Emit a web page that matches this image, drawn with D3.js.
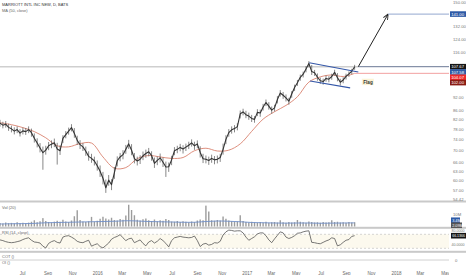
<!DOCTYPE html>
<html lang="en">
<head>
<meta charset="UTF-8">
<title>MAR daily - flag</title>
<script src="https://d3js.org/d3.v7.min.js"></script>
<style>
  body { margin: 0; background: #fff; overflow: hidden; }
  svg { display: block; font-family: "Liberation Sans", Arial, sans-serif; }
</style>
</head>
<body>
<svg id="chart" width="466" height="275"></svg>
<script>
// weekly samples (Fridays, May 2015 - Sep 2017)
const closes = [80.6, 79.8, 80.2, 78.9, 78.3, 77.4, 78.0, 76.6, 77.5, 77.2,
  78.0, 76.8, 74.6, 72.8, 71.0, 69.3, 70.2, 71.8, 72.4, 72.9,
  70.6, 70.0, 74.6, 76.0, 77.4, 78.8, 76.5, 73.8, 72.2, 71.4,
  69.8, 68.0, 67.3, 66.4, 64.8, 63.0, 60.8, 57.9, 60.2, 58.8,
  62.6, 66.5, 67.8, 68.6, 70.5, 72.5, 70.2, 67.2, 66.4, 67.0,
  68.2, 69.0, 69.6, 68.3, 65.6, 66.6, 67.5, 66.0, 64.4, 64.5,
  66.8, 70.0, 70.5, 71.2, 70.6, 71.3, 72.0, 72.9, 71.8, 72.5,
  69.4, 67.2, 67.0, 66.6, 67.3, 66.8, 67.0, 67.6, 70.5, 74.2,
  76.8, 77.9, 78.4, 79.2, 84.6, 85.4, 84.2, 83.6, 82.6, 82.2,
  85.2, 84.9, 87.6, 89.6, 88.0, 86.2, 87.2, 91.0, 94.1, 93.0,
  91.8, 90.2, 93.6, 96.8, 99.2, 102.0, 103.6, 106.4, 109.5, 105.0,
  104.4, 102.0, 100.2, 99.8, 101.4, 101.0, 102.4, 104.6, 101.8, 99.4,
  100.6, 102.5, 103.8, 105.2, 107.67];
const highs = [82.0, 81.2, 81.5, 80.4, 79.6, 78.9, 79.3, 78.2, 78.8, 78.6,
  79.3, 78.4, 76.5, 74.6, 72.8, 71.5, 71.8, 73.2, 73.8, 74.5,
  72.9, 72.0, 75.8, 77.4, 78.8, 80.2, 78.6, 75.6, 73.9, 72.8,
  71.5, 69.8, 68.9, 67.9, 66.6, 64.9, 62.8, 60.4, 61.8, 60.5,
  64.4, 68.0, 69.2, 70.2, 72.1, 74.0, 72.4, 69.2, 67.9, 68.4,
  69.7, 70.4, 71.0, 69.8, 67.6, 68.0, 69.0, 67.6, 66.2, 65.9,
  68.2, 71.3, 71.8, 72.5, 72.0, 72.6, 73.3, 74.2, 73.3, 73.8,
  71.6, 68.9, 68.3, 67.9, 68.6, 68.1, 68.3, 68.9, 72.6, 75.8,
  78.2, 79.3, 79.8, 80.6, 86.0, 86.8, 85.9, 85.1, 84.1, 83.6,
  86.6, 86.4, 89.0, 91.0, 89.8, 87.8, 88.6, 92.6, 95.5, 94.6,
  93.4, 91.8, 95.0, 98.2, 100.6, 103.4, 105.0, 108.0, 110.8, 108.6,
  105.9, 104.0, 101.8, 101.3, 102.9, 102.6, 103.9, 106.0, 104.2, 101.2,
  102.0, 103.9, 105.1, 106.5, 108.7];
const lows = [79.2, 78.5, 78.8, 77.5, 76.9, 76.1, 76.6, 75.3, 76.1, 75.9,
  76.6, 75.2, 73.0, 71.2, 69.4, 63.5, 68.6, 70.2, 70.9, 71.3,
  65.2, 68.5, 72.8, 74.6, 76.0, 77.3, 74.8, 72.1, 70.6, 69.9,
  68.2, 66.5, 65.8, 64.9, 63.2, 61.2, 58.9, 56.4, 58.5, 57.2,
  60.6, 64.6, 66.3, 67.0, 68.9, 70.6, 68.4, 65.6, 64.9, 65.4,
  66.7, 67.5, 68.0, 66.5, 64.1, 65.0, 65.9, 64.4, 61.2, 62.8,
  65.0, 68.4, 69.1, 69.8, 69.0, 69.9, 70.6, 71.5, 70.3, 70.9,
  67.6, 65.7, 65.6, 65.1, 65.8, 65.3, 65.6, 66.1, 68.6, 72.4,
  75.2, 76.4, 76.9, 77.7, 82.6, 83.9, 82.7, 82.0, 81.1, 80.8,
  83.6, 83.3, 86.0, 88.0, 86.4, 84.6, 85.6, 89.2, 92.4, 91.3,
  90.1, 88.6, 91.8, 95.1, 97.6, 100.2, 101.9, 104.6, 107.4, 103.2,
  102.7, 100.2, 98.6, 98.2, 99.7, 99.4, 100.7, 102.8, 99.9, 97.8,
  98.9, 100.8, 102.2, 103.6, 106.0];
// MA(50, close), read every 4th week
const ma50 = [80.8, 80.0, 78.8, 77.2, 74.8, 71.8, 71.4, 72.6, 72.8, 67.8,
  64.0, 64.2, 67.2, 68.3, 67.8, 67.3, 67.6, 70.0, 70.9, 69.9,
  70.2, 72.5, 77.3, 82.3, 85.5, 88.3, 92.3, 99.5, 102.2, 103.2,
  102.4, 104.07];
// volume in millions
const volume = [2.8, 2.4, 3.2, 2.6, 2.9, 2.5, 3.4, 2.7, 3.0, 2.6,
  3.1, 3.8, 5.0, 3.4, 4.2, 6.7, 4.4, 3.6, 3.2, 3.9,
  4.6, 3.8, 5.4, 4.0, 3.6, 4.8, 8.2, 13.0, 5.2, 4.0,
  3.6, 4.2, 7.7, 3.8, 4.6, 6.2, 7.8, 6.4, 5.6, 7.0,
  5.2, 4.8, 6.0, 5.4, 8.8, 17.4, 13.2, 9.0, 5.4, 4.8,
  5.8, 6.4, 5.0, 4.4, 5.6, 4.2, 5.0, 4.6, 6.0, 5.2,
  4.0, 3.8, 4.4, 3.6, 4.2, 3.8, 3.4, 4.0, 3.6, 4.8,
  5.6, 5.0, 16.7, 12.0, 5.0, 4.6, 5.2, 4.8, 8.0, 6.2,
  4.8, 4.2, 3.6, 4.0, 9.0, 4.4, 3.6, 3.2, 3.8, 3.4,
  3.0, 3.6, 3.2, 3.8, 3.0, 3.4, 3.6, 3.2, 5.0, 3.4,
  3.0, 3.6, 3.2, 3.4, 5.2, 3.8, 3.4, 3.0, 4.0, 3.6,
  3.2, 3.4, 3.0, 3.6, 3.2, 3.4, 5.0, 3.6, 3.8, 3.2,
  3.4, 3.0, 3.6, 3.2, 3.4];
// Vol(20) average, every 4th week
const volAvg = [2.0, 2.2, 2.3, 2.5, 3.0, 3.2, 3.4, 3.6, 3.8, 4.0,
  4.2, 4.6, 4.4, 4.0, 3.8, 3.6, 3.4, 3.4, 4.0, 4.4,
  4.2, 3.8, 3.2, 3.0, 2.8, 2.7, 2.8, 2.8, 2.6, 2.7,
  2.8, 2.9];
const rsi = [54, 52, 49, 47, 46, 47, 49, 51, 55, 58,
  60, 53, 48, 47, 45, 36, 31, 44, 49, 52,
  47, 45, 62, 65, 66, 62, 57, 50, 47, 46,
  50, 53, 36, 40, 43, 35, 31, 38, 45, 56,
  61, 64, 69, 60, 52, 57, 59, 46, 50, 54,
  44, 37, 48, 52, 45, 50, 58, 52, 44, 34,
  52, 60, 62, 64, 62, 61, 60, 61, 65, 52,
  35, 42, 44, 39, 41, 46, 45, 50, 68, 77,
  82, 81, 79, 80, 80, 74, 62, 53, 58, 63,
  71, 74, 74, 66, 54, 46, 57, 67, 77, 74,
  62, 58, 61, 66, 73, 74, 77, 79, 80, 47,
  46, 44, 43, 47, 51, 54, 60, 58, 37, 40,
  47, 53, 55, 64, 66];

const priceTicks = [150, 132, 124, 116, 92, 86, 82, 78, 74, 70, 66, 63, 60, 57, 54.42];
const lastPrice = 107.67, target = 141;

const svg = d3.select("#chart");
const W = 449;
const weeks = d3.timeFriday.range(new Date(2015, 4, 8), new Date(2017, 8, 23));
const maDates = weeks.filter((d, i) => i % 4 === 0);

const x = d3.scaleTime().domain([new Date(2015, 4, 8), new Date(2018, 4, 11)]).range([0, W]);
const y = d3.scaleLog().domain([54.1, 150]).range([201, 2]);
const yV = d3.scaleLinear().domain([0, 20]).range([226.5, 201.5]);
const yR = d3.scaleLinear().domain([30, 80]).range([248.3, 230.8]);

const defs = svg.append("defs");
function clip(id, y0, y1) {
  defs.append("clipPath").attr("id", id).append("rect")
    .attr("x", 0).attr("y", y0).attr("width", W).attr("height", y1 - y0);
}
clip("cMain", 0, 201);
clip("cVol", 203, 227);
clip("cRsi", 229, 251);
clip("cAxis", 262, 275);

defs.append("marker").attr("id", "arrow").attr("viewBox", "0 0 10 10")
  .attr("refX", 9).attr("refY", 5).attr("markerWidth", 6).attr("markerHeight", 6)
  .attr("orient", "auto")
  .append("path").attr("d", "M0,1L9,5L0,9").attr("fill", "none").attr("stroke", "#222").attr("stroke-width", 1.5);

// pane separators
[[201.5, 2], [227.8, 2], [251.8, 2]].forEach(([yy, h]) => {
  svg.append("rect").attr("x", 0).attr("y", yy - h / 2).attr("width", 466).attr("height", h).attr("fill", "#c9c9c9");
});
svg.append("line").attr("x1", 0).attr("x2", W).attr("y1", 260).attr("y2", 260)
  .attr("stroke", "#c4c4c4").attr("stroke-width", 0.8);

// ---- main pane
const main = svg.append("g").attr("clip-path", "url(#cMain)");

// horizontal level through last price
main.append("line").attr("x1", 0).attr("x2", x(new Date(2017, 9, 1)))
  .attr("y1", y(lastPrice)).attr("y2", y(lastPrice)).attr("stroke", "#cfcfcf").attr("stroke-width", 1.4);
main.append("line").attr("x1", x(new Date(2017, 9, 1))).attr("x2", W)
  .attr("y1", y(lastPrice)).attr("y2", y(lastPrice)).attr("stroke", "#6b7894").attr("stroke-width", 1);

// MA line and its level
main.append("path").datum(ma50)
  .attr("fill", "none").attr("stroke", "#d9826f").attr("stroke-width", 0.9)
  .attr("d", d3.line().x((d, i) => x(maDates[i])).y(d => y(d)).curve(d3.curveCatmullRom));
main.append("line").attr("x1", x(maDates[maDates.length - 1])).attr("x2", W)
  .attr("y1", y(ma50[ma50.length - 1])).attr("y2", y(ma50[ma50.length - 1]))
  .attr("stroke", "#f2a0a0").attr("stroke-width", 1);

// price bars
main.selectAll("line.bar").data(weeks).enter().append("line").attr("class", "bar")
  .attr("x1", d => x(d)).attr("x2", d => x(d))
  .attr("y1", (d, i) => y(highs[i])).attr("y2", (d, i) => y(lows[i]))
  .attr("stroke", "#555").attr("stroke-width", 0.7);
main.append("path").datum(closes)
  .attr("fill", "none").attr("stroke", "#333").attr("stroke-width", 1.1)
  .attr("stroke-linejoin", "round")
  .attr("d", d3.line().x((d, i) => x(weeks[i])).y(d => y(d)));

// flag channel
const flagTop = [[new Date(2017, 5, 3), 109.9], [new Date(2017, 9, 1), 104.8]];
const flagBot = [[new Date(2017, 5, 5), 100.1], [new Date(2017, 8, 11), 96.6]];
[flagTop, flagBot].forEach(seg => {
  main.append("line")
    .attr("x1", x(seg[0][0])).attr("y1", y(seg[0][1]))
    .attr("x2", x(seg[1][0])).attr("y2", y(seg[1][1]))
    .attr("stroke", "#3457a8").attr("stroke-width", 1.1);
});

// projection arrow and target
main.append("line").attr("x1", x(new Date(2017, 9, 1))).attr("y1", y(lastPrice))
  .attr("x2", x(new Date(2017, 11, 13))).attr("y2", y(target))
  .attr("stroke", "#222").attr("stroke-width", 1).attr("marker-end", "url(#arrow)");
main.append("line").attr("x1", x(new Date(2017, 11, 13))).attr("x2", W)
  .attr("y1", y(target)).attr("y2", y(target)).attr("stroke", "#a9b9d9").attr("stroke-width", 1.3);

// Flag label
const fx = x(new Date(2017, 9, 12)), fy = y(99.6);
main.append("rect").attr("x", fx - 1).attr("y", fy - 3.2).attr("width", 12).attr("height", 6.4)
  .attr("fill", "#fbf3d6");
main.append("text").attr("x", fx + 0.5).attr("y", fy + 1.6)
  .attr("font-size", 4.6).attr("font-weight", "bold").attr("fill", "#333").text("Flag");

// ---- volume pane
const vol = svg.append("g").attr("clip-path", "url(#cVol)");
vol.selectAll("rect").data(weeks).enter().append("rect")
  .attr("x", d => x(d) - 0.7).attr("width", 1.4)
  .attr("y", (d, i) => yV(volume[i])).attr("height", (d, i) => yV(0) - yV(volume[i]))
  .attr("fill", "#9c9c9c");
vol.append("path").datum(volAvg)
  .attr("fill", "none").attr("stroke", "#6f8fc8").attr("stroke-width", 0.9)
  .attr("d", d3.line().x((d, i) => x(maDates[i])).y(d => yV(d)).curve(d3.curveCatmullRom));

// ---- RSI pane
const rs = svg.append("g").attr("clip-path", "url(#cRsi)");
rs.append("rect").attr("x", 0).attr("width", W).attr("y", yR(70)).attr("height", yR(30) - yR(70))
  .attr("fill", "#fcf9ee");
[70, 30].forEach(v => {
  rs.append("line").attr("x1", 0).attr("x2", W).attr("y1", yR(v)).attr("y2", yR(v))
    .attr("stroke", "#b8b8b8").attr("stroke-width", 0.6).attr("stroke-dasharray", "2,2");
});
rs.append("path").datum(rsi)
  .attr("fill", "none").attr("stroke", "#555").attr("stroke-width", 0.8)
  .attr("d", d3.line().x((d, i) => x(weeks[i])).y(d => yR(d)));

// ---- pane titles
const small = (tx, ty, t, col) => svg.append("text").attr("x", tx).attr("y", ty)
  .attr("font-size", 4).attr("fill", col || "#666").text(t);
small(2, 6, "MARRIOTT INTL INC NEW, D, BATS", "#333");
small(2, 12, "MA (50, close)");
small(2, 209, "Vol (20)");
small(2, 234, "RSI (14, close)");
small(2, 258, "COT ()");
small(2, 264, "OI ()");

// ---- right scale
const ra = svg.append("g").attr("font-size", 4.2).attr("fill", "#777");
ra.selectAll("text").data(priceTicks).enter().append("text")
  .attr("x", 453).attr("y", d => y(d) + 1.5).text(d => d.toFixed(2));
ra.append("text").attr("x", 453).attr("y", yV(10) + 1.5).text("10M");
ra.append("text").attr("x", 451.5).attr("y", yR(80) + 1.5).attr("font-size", 3.6).text("80.0000");
ra.append("text").attr("x", 451.5).attr("y", yR(40) + 1.5).attr("font-size", 3.6).text("40.0000");
ra.append("text").attr("x", 455).attr("y", 261.5).text("0");

function tag(cy, txt, bg, x0, w, fs) {
  svg.append("rect").attr("x", x0 || 450).attr("y", cy - 2.8).attr("width", w || 16).attr("height", 5.6).attr("fill", bg);
  svg.append("text").attr("x", (x0 || 450) + 1.2).attr("y", cy + 1.5)
    .attr("font-size", fs || 4.2).attr("fill", "#fff").text(txt);
}
tag(y(target), "141.00", "#2d5aa6");
tag(y(lastPrice), "107.67", "#151515");
tag(y(lastPrice) + 5.3, "107.58", "#2d5aa6");
tag(y(lastPrice) + 10.6, "104.07", "#ee2a2a");
tag(y(lastPrice) + 15.9, "102.00", "#8a1c14");
tag(yV(5), "3.4M", "#2d5aa6", 451, 9, 3.8);
tag(yV(1), "2.09M", "#555", 451, 11, 3.8);
tag(yR(rsi[rsi.length - 1]), "66.1366", "#151515", 451, 15, 3.5);

// ---- time axis
const xAxis = d3.axisBottom(x)
  .tickValues(d3.timeMonth.every(2).range(new Date(2015, 6, 1), new Date(2018, 5, 1)))
  .tickFormat(d => d.getMonth() === 0 ? d.getFullYear() : d3.timeFormat("%b")(d))
  .tickSize(0);
const ax = svg.append("g").attr("clip-path", "url(#cAxis)")
  .append("g").attr("transform", "translate(0,269)").call(xAxis);
ax.select(".domain").remove();
ax.selectAll("text").attr("font-size", 4.5).attr("fill", "#666").attr("font-family", "Liberation Sans, Arial, sans-serif");
</script>
</body>
</html>
